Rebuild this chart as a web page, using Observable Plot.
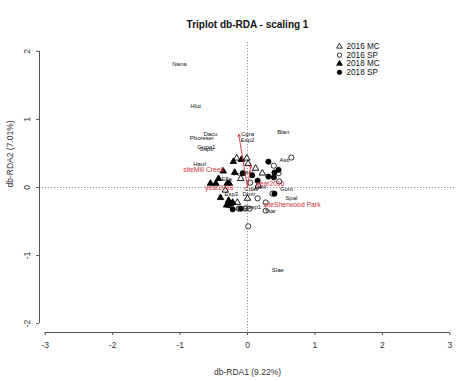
<!DOCTYPE html>
<html>
<head>
<meta charset="utf-8">
<script src="https://cdn.jsdelivr.net/npm/d3@7"></script>
<script src="https://cdn.jsdelivr.net/npm/@observablehq/plot@0.6"></script>
<style>
body { margin: 0; background: #fff; }
svg { font-family: "Liberation Sans", Arial, sans-serif; }
</style>
</head>
<body>
<div id="chart"></div>
<script>
// ---- data ----
const groups = ["2016 MC", "2016 SP", "2018 MC", "2018 SP"];
const x2016MC = [-0.16, -0.01, 0.01, 0.22, 0.0, -0.15, 0.12, -0.33, 0.16, -0.10];
const y2016MC = [0.43, 0.43, 0.35, 0.21, -0.16, -0.22, 0.28, -0.04, 0.03, 0.13];
const x2016SP = [0.65, 0.39, 0.46, 0.47, 0.37, 0.15, 0.27, -0.03, 0.03, 0.27, 0.01, 0.04, -0.13];
const y2016SP = [0.44, 0.32, 0.21, 0.09, -0.09, -0.16, -0.22, -0.31, -0.31, -0.34, -0.57, 0.07, -0.31];
const x2018MC = [-0.21, -0.09, -0.36, -0.43, -0.19, -0.55, -0.47, -0.30, -0.27, -0.40, -0.28, -0.25, -0.22, -0.31];
const y2018MC = [0.38, 0.41, 0.24, 0.13, 0.22, 0.06, 0.06, 0.06, 0.06, -0.15, -0.19, -0.24, -0.22, -0.26];
const x2018SP = [0.31, 0.46, 0.40, 0.39, 0.31, 0.15, -0.07, -0.22, -0.10, 0.40, 0.07, -0.28];
const y2018SP = [0.38, 0.26, 0.22, 0.15, 0.16, 0.10, 0.21, -0.32, -0.31, -0.09, 0.18, -0.26];

const species = ["Nana", "Hlut", "Dacu", "Pboresei", "Gupa1", "Gspo", "Cgra", "Esp2", "Blan", "Asti", "Hauf",
  "Gom", "Spal", "Tsar", "Slae", "Gasp1", "Cpar", "Esp3", "Efla", "Pcra", "Lam", "Cdae", "Dmir", "Lsal"];
const speciesX = [-1.01, -0.77, -0.55, -0.68, -0.61, -0.61, 0.0, 0.0, 0.53, 0.55, -0.71,
  0.58, 0.65, 0.34, 0.45, 0.07, -0.07, -0.24, -0.31, -0.12, 0.19, 0.06, 0.02, 0.0];
const speciesY = [1.82, 1.19, 0.78, 0.72, 0.60, 0.57, 0.79, 0.70, 0.81, 0.40, 0.35,
  -0.03, -0.15, -0.35, -1.21, -0.29, -0.31, -0.09, 0.12, 0.19, 0.0, -0.03, -0.09, 0.22];

const centroidLabels = ["siteMill Creek", "year2018", "year2016", "siteSherwood Park"];
const centroidX = [-0.65, -0.42, 0.34, 0.66];
const centroidY = [0.26, 0.0, 0.05, -0.26];

const arrowX = [-0.13, 0.05];
const arrowY = [0.78, 0.33];

const xTicks = [-3, -2, -1, 0, 1, 2, 3];
const yTicks = [-2, -1, 0, 1, 2];
const xDomain = [-3.085, 3.085];
const yDomain = [-2.13, 2.13];

// ---- build tables ----
const pts = [];
[[x2016MC, y2016MC, groups[0]], [x2016SP, y2016SP, groups[1]], [x2018MC, y2018MC, groups[2]], [x2018SP, y2018SP, groups[3]]]
  .forEach(([xs, ys, g]) => xs.forEach((v, i) => pts.push({x: v, y: ys[i], g})));
const spp = species.map((s, i) => ({s, x: speciesX[i], y: speciesY[i]}));
const cents = centroidLabels.map((s, i) => ({s, x: centroidX[i], y: centroidY[i]}));
const arrows = arrowX.map((v, i) => ({x: v, y: arrowY[i]}));

const symbolOf = {"2016 MC": "triangle", "2016 SP": "circle", "2018 MC": "triangle", "2018 SP": "circle"};
const filled = g => g.startsWith("2018");
const red = "#d0303c";
const axisCol = "#555";

const tri = pts.filter(d => symbolOf[d.g] === "triangle");
const circ = pts.filter(d => symbolOf[d.g] === "circle");

const legendMarks = groups.flatMap((g, i) => [
  Plot.dot([g], {frameAnchor: "top-left", dx: 300, dy: 4 + i * 8.6, symbol: symbolOf[g],
    r: symbolOf[g] === "triangle" ? 2.1 : 2.2,
    fill: filled(g) ? "black" : "white", stroke: "black", strokeWidth: 0.8}),
  Plot.text([g], {frameAnchor: "top-left", dx: 307, dy: 4 + i * 8.6, text: d => d, textAnchor: "start",
    lineAnchor: "middle", fontSize: 8.2, fill: "#111"})
]);

const plot = Plot.plot({
  width: 474,
  height: 381,
  marginLeft: 39,
  marginRight: 19,
  marginTop: 42,
  marginBottom: 49,
  x: {domain: xDomain},
  y: {domain: yDomain},
  style: {fontFamily: "Liberation Sans, Arial, sans-serif", background: "#fff"},
  marks: [
    // reference dotted lines
    Plot.ruleX([0], {stroke: "#888", strokeDasharray: "1.2,1.8", strokeWidth: 0.9}),
    Plot.ruleY([0], {stroke: "#888", strokeDasharray: "1.2,1.8", strokeWidth: 0.9}),
    // axes
    Plot.ruleY([yDomain[0]], {x1: d3.min(xTicks), x2: d3.max(xTicks), stroke: axisCol}),
    Plot.axisX({ticks: xTicks, tickSize: 3, tickPadding: 6, fontSize: 8.5, tickFormat: d => String(d), label: null, stroke: axisCol, color: "#333"}),
    Plot.ruleX([xDomain[0]], {y1: d3.min(yTicks), y2: d3.max(yTicks), stroke: axisCol}),
    Plot.axisY({ticks: yTicks, tickSize: 3, tickFormat: () => "", label: null, stroke: axisCol}),
    Plot.text(yTicks, {x: xDomain[0], y: d => d, text: d => String(d), dx: -12, rotate: -90, fontSize: 8.5, fill: "#333"}),
    // axis titles and title
    Plot.text(["db-RDA1 (9.22%)"], {frameAnchor: "bottom", dy: 42, fontSize: 8.5, fill: "#333"}),
    Plot.text(["db-RDA2 (7.01%)"], {frameAnchor: "left", dx: -29, rotate: -90, fontSize: 8.5, fill: "#333"}),
    Plot.text(["Triplot db-RDA - scaling 1"], {frameAnchor: "top", dy: -22, fontSize: 10, fontWeight: "bold", fill: "#111"}),
    // sites
    Plot.dot(circ, {x: "x", y: "y", symbol: "circle", r: 2.6,
      fill: d => filled(d.g) ? "black" : "white", stroke: "black", strokeWidth: 0.8}),
    Plot.dot(tri, {x: "x", y: "y", symbol: "triangle", r: 2.4,
      fill: d => filled(d.g) ? "black" : "white", stroke: "black", strokeWidth: 0.9}),
    // species
    Plot.text(spp, {x: "x", y: "y", text: "s", fontSize: 6, fill: "#111"}),
    // arrows
    Plot.arrow(arrows, {x1: 0, y1: 0, x2: "x", y2: "y", stroke: red, strokeWidth: 0.9, headLength: 4}),
    // centroids
    Plot.text(cents, {x: "x", y: "y", text: "s", fontSize: 6.8, fill: red}),
    // legend
    ...legendMarks
  ]
});
document.getElementById("chart").appendChild(plot);
</script>
</body>
</html>
